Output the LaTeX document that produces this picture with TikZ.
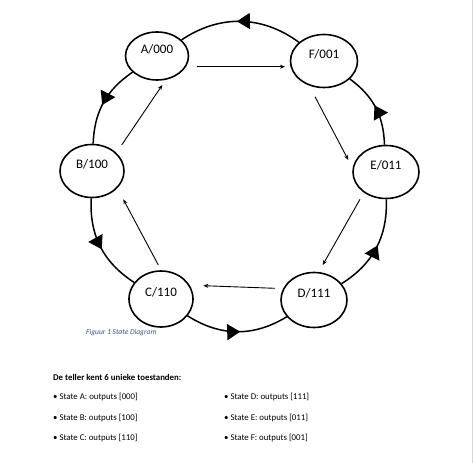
\documentclass[tikz,border=0pt]{standalone}
\usepackage{fontspec}
\setmainfont{Carlito}
\usetikzlibrary{shapes.geometric,arrows.meta,decorations.markings,calc}
\definecolor{captionblue}{RGB}{60,84,140}
\definecolor{edgegray}{RGB}{215,215,215}
\begin{document}
\begin{tikzpicture}[x=1pt,y=1pt,
  state/.style={draw, ellipse, line width=1.6pt, inner sep=0pt,
    font=\fontsize{13}{13}\selectfont, text height=9pt, text depth=13pt,
    minimum width=65pt, minimum height=53pt},
  ring/.style={line width=1.5pt, postaction={decorate},
    decoration={markings, mark=at position 0.53 with {\arrow{Triangle[length=13pt,width=16pt]}}}},
  inner/.style={line width=0.9pt, -{Stealth[length=5pt,width=4pt]}},
  bodytext/.style={anchor=west, inner sep=0pt, font=\fontsize{8.8}{8.8}\selectfont}
]
\useasboundingbox (0,0) rectangle (474,463);
\fill[white] (0,0) rectangle (474,463);
\draw[edgegray, line width=0.8pt] (472.5,463) -- (472.5,0);

\node[state, minimum width=63pt, minimum height=48pt] (A) at (157,407) {A/000};
\node[state, minimum width=67pt, minimum height=53pt] (F) at (324,402) {F/001};
\node[state, minimum width=66pt, minimum height=53pt] (E) at (386,291) {E/011};
\node[state, minimum width=66pt, minimum height=55pt] (D) at (314,163) {D/111};
\node[state, minimum width=64pt, minimum height=56pt] (C) at (161,164) {C/110};
\node[state, minimum width=64pt, minimum height=53pt] (B) at (92,292) {B/100};

% outer ring
\draw[ring] (F) to[bend right=35] (A);
\draw[ring] (A) to[bend right=27] (B);
\draw[ring] (B) to[bend right=30] (C);
\draw[ring] (C) to[bend right=32] (D);
\draw[ring] (D) to[bend right=30] (E);
\draw[ring] (E) to[bend right=26] (F);

% inner arrows
\draw[inner] ($(A)+(39.7,-10.7)$) -- ($(F)+(-39,-5.7)$);
\draw[inner] ($(F)+(-9,-35.7)$) -- ($(E)+(-37.7,12)$);
\draw[inner] ($(E)+(-26,-27.3)$) -- ($(D)+(8.7,35)$);
\draw[inner] ($(D)+(-39,11.7)$) -- ($(C)+(42.3,13.3)$);
\draw[inner] ($(C)+(-2.7,34)$) -- ($(B)+(31.3,-28.3)$);
\draw[inner] ($(B)+(29.7,26)$) -- ($(A)+(5.3,-29)$);

\node[anchor=west, inner sep=0pt, text=captionblue, font=\fontsize{7.5}{7.5}\selectfont\itshape] (cap) at (86,130) {Figuur 1 State Diagram};

\node[bodytext, font=\fontsize{8.8}{8.8}\selectfont\bfseries] (title) at (53,86) {De teller kent 6 unieke toestanden:};
\node[bodytext] (sa) at (53,66) {• State A: outputs [000]};
\node[bodytext] (sb) at (53,45) {• State B: outputs [100]};
\node[bodytext] (sc) at (53,25) {• State C: outputs [110]};
\node[bodytext] (sd) at (224,66) {• State D: outputs [111]};
\node[bodytext] (se) at (224,45) {• State E: outputs [011]};
\node[bodytext] (sf) at (224,25) {• State F: outputs [001]};
\end{tikzpicture}
\end{document}
